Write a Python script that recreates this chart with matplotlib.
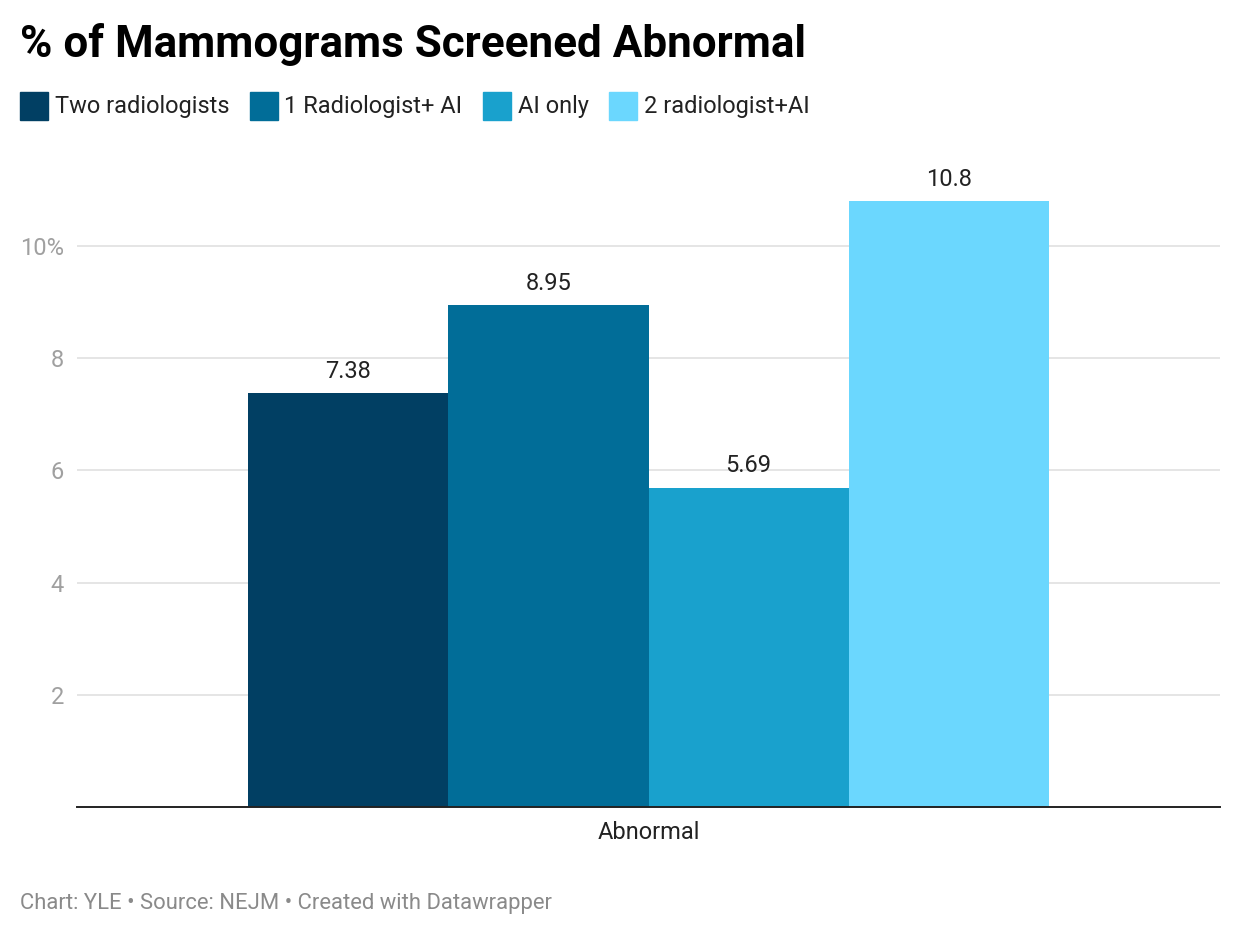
import matplotlib
matplotlib.use("Agg")
import matplotlib.pyplot as plt
from matplotlib.patches import Rectangle

plt.rcParams['font.family'] = ['Roboto', 'DejaVu Sans']

categories = ["Abnormal"]
series_names = ["Two radiologists", "1 Radiologist+ AI", "AI only", "2 radiologist+AI"]
values = [7.38, 8.95, 5.69, 10.8]
value_labels = ["7.38", "8.95", "5.69", "10.8"]
colors = ["#013f63", "#016d98", "#19a1cd", "#6bd7fe"]
yticks = [2, 4, 6, 8, 10]
ytick_labels = ["2", "4", "6", "8", "10%"]

W, H = 1240, 938
fig = plt.figure(figsize=(W / 100, H / 100), dpi=100)

ax = fig.add_axes([77 / W, (H - 807) / H, (1220 - 77) / W, (807 - 162) / H])
ax.set_xlim(-0.5, 0.5)
ax.set_ylim(0, 11.5)

bw = 0.175
offsets = [(i - 1.5) * bw for i in range(len(values))]
for off, v, lab, c in zip(offsets, values, value_labels, colors):
    ax.bar(off, v, width=bw, color=c, zorder=2)
    ax.annotate(lab, (off, v), xytext=(0, 7.5), textcoords="offset points",
                ha="center", va="bottom", fontsize=17, color="#222222")

ax.set_yticks(yticks)
ax.set_yticklabels(ytick_labels)
ax.tick_params(axis='y', length=0, pad=9.4, labelsize=17, labelcolor="#a0a0a0")
ax.yaxis.grid(True, color="#e3e3e3", linewidth=1.3, zorder=0)
ax.set_axisbelow(True)
ax.set_xticks([0])
ax.set_xticklabels(categories)
ax.tick_params(axis='x', length=0, pad=10, labelsize=17, labelcolor="#222222")
for s in ["top", "right", "left"]:
    ax.spines[s].set_visible(False)
ax.spines["bottom"].set_color("#222222")
ax.spines["bottom"].set_linewidth(1.4)
ax.spines["bottom"].set_zorder(3)

# Title
fig.text(20 / W, 1 - 45 / H, "% of Mammograms Screened Abnormal", fontsize=31.7,
         fontweight="bold", color="#000000", ha="left", va="center")

# Legend (manual)
fig.canvas.draw()
renderer = fig.canvas.get_renderer()
x = 20
sq = 28
ycen = 106
for name, c in zip(series_names, colors):
    fig.patches.append(Rectangle((x / W, 1 - (ycen + sq / 2) / H), sq / W, sq / H,
                                 transform=fig.transFigure, color=c, figure=fig))
    t = fig.text((x + sq + 7) / W, 1 - (ycen + 1) / H, name, fontsize=17, color="#222222",
                 ha="left", va="center")
    bb = t.get_window_extent(renderer)
    x = x + sq + 7 + bb.width + 20

# Footer
fig.text(20 / W, 1 - 903 / H, "Chart: YLE • Source: NEJM • Created with Datawrapper",
         fontsize=15.8, color="#8a8a8a", ha="left", va="center")

fig.savefig("out.png", dpi=100, facecolor="white")
